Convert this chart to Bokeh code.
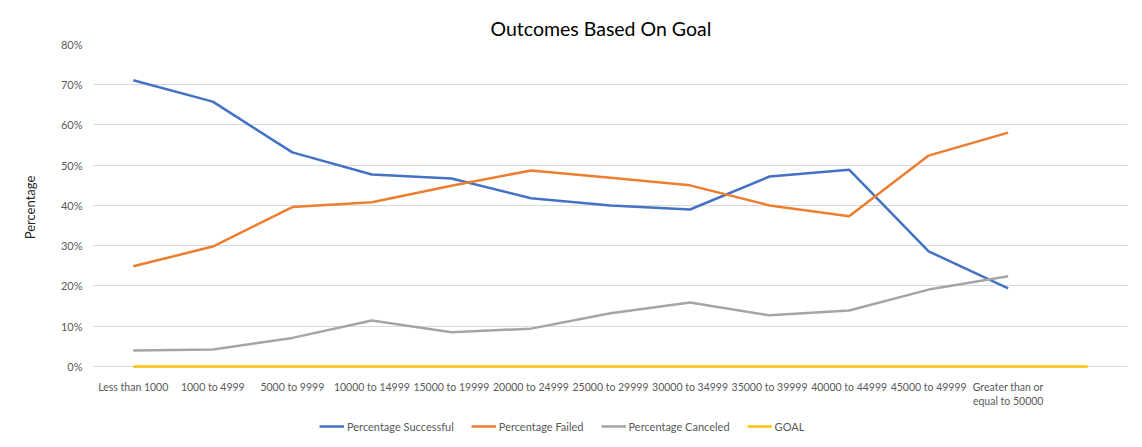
from bokeh.plotting import figure
from bokeh.layouts import column
from bokeh.models import Range1d, FixedTicker, NumeralTickFormatter, Legend, LegendItem
from bokeh.embed import file_html
from bokeh.resources import INLINE

categories = ["Less than 1000", "1000 to 4999", "5000 to 9999", "10000 to 14999",
              "15000 to 19999", "20000 to 24999", "25000 to 29999", "30000 to 34999",
              "35000 to 39999", "40000 to 44999", "45000 to 49999",
              "Greater than or\nequal to 50000", ""]
successful = [0.711, 0.658, 0.532, 0.477, 0.467, 0.418, 0.400, 0.390, 0.472, 0.489, 0.286, 0.194]
failed = [0.249, 0.298, 0.396, 0.408, 0.449, 0.487, 0.469, 0.450, 0.400, 0.373, 0.524, 0.581]
canceled = [0.040, 0.042, 0.071, 0.114, 0.085, 0.094, 0.132, 0.159, 0.127, 0.139, 0.191, 0.224]
goal = [0, 0, 0, 0, 0, 0, 0, 0, 0, 0, 0, 0, 0]
series_names = ["Percentage Successful", "Percentage Failed", "Percentage Canceled", "GOAL"]
colors = ["#4472C4", "#ED7D31", "#A5A5A5", "#FFC000"]

FONT = "Lato"
x_all = list(range(1, len(categories) + 1))

p = figure(width=1130, height=411, output_backend="svg", toolbar_location=None,
           x_range=Range1d(0.5, len(categories) + 0.5), y_range=Range1d(-0.01, 0.8),
           min_border_left=93, min_border_right=3, min_border_top=44, min_border_bottom=41)
p.outline_line_color = None

p.title.text = "Outcomes Based On Goal"
p.title.align = "left"
p.title.text_font = FONT
p.title.text_font_size = "19.5px"
p.title.text_font_style = "normal"
p.title.text_color = "#000000"
p.title.offset = 397

p.xgrid.grid_line_color = None
p.ygrid.grid_line_color = "#d9d9d9"
p.ygrid.ticker = FixedTicker(ticks=[i / 10 for i in range(9)])

p.xaxis.ticker = FixedTicker(ticks=x_all)
p.xaxis.major_label_overrides = {x: c for x, c in zip(x_all, categories)}
p.xaxis.axis_line_color = None
p.xaxis.major_tick_line_color = None
p.xaxis.minor_tick_line_color = None
p.xaxis.major_label_text_font = FONT
p.xaxis.major_label_text_font_size = "10.5px"
p.xaxis.major_label_text_color = "#595959"
p.xaxis.major_label_standoff = 4

p.yaxis.ticker = FixedTicker(ticks=[i / 10 for i in range(9)])
p.yaxis.formatter = NumeralTickFormatter(format="0%")
p.yaxis.axis_line_color = None
p.yaxis.major_tick_line_color = None
p.yaxis.minor_tick_line_color = None
p.yaxis.major_label_text_font = FONT
p.yaxis.major_label_text_font_size = "11px"
p.yaxis.major_label_text_color = "#595959"
p.yaxis.major_label_standoff = 5
p.yaxis.axis_label = "Percentage"
p.yaxis.axis_label_text_font = FONT
p.yaxis.axis_label_text_font_size = "13px"
p.yaxis.axis_label_text_font_style = "normal"
p.yaxis.axis_label_text_color = "#262626"
p.yaxis.axis_label_standoff = 20

n = len(successful)
p.line(x_all[:n], successful, line_color=colors[0], line_width=2.5)
p.line(x_all[:n], failed, line_color=colors[1], line_width=2.5)
p.line(x_all[:n], canceled, line_color=colors[2], line_width=2.5)
p.line(x_all, goal, line_color=colors[3], line_width=2.5)

# legend strip below the chart
lf = figure(width=1130, height=28, output_backend="svg", toolbar_location=None,
            x_axis_type=None, y_axis_type=None, x_range=Range1d(0, 1), y_range=Range1d(0, 1),
            min_border_left=0, min_border_right=0, min_border_top=0, min_border_bottom=0)
lf.outline_line_color = None
lf.xgrid.grid_line_color = None
lf.ygrid.grid_line_color = None
items = []
for name, c in zip(series_names, colors):
    r = lf.line([float("nan")], [float("nan")], line_color=c, line_width=2.5)
    items.append(LegendItem(label=name, renderers=[r]))

legend = Legend(items=items, orientation="horizontal", location=(226, 3))
legend.label_text_font = FONT
legend.label_text_font_size = "11px"
legend.label_text_color = "#595959"
legend.glyph_width = 25
legend.label_standoff = 3
legend.spacing = 17
legend.border_line_color = None
legend.background_fill_alpha = 0
legend.padding = 2
legend.margin = 0
lf.add_layout(legend)

layout = column(p, lf, spacing=0)
open("out.html", "w").write(file_html(layout, INLINE))
